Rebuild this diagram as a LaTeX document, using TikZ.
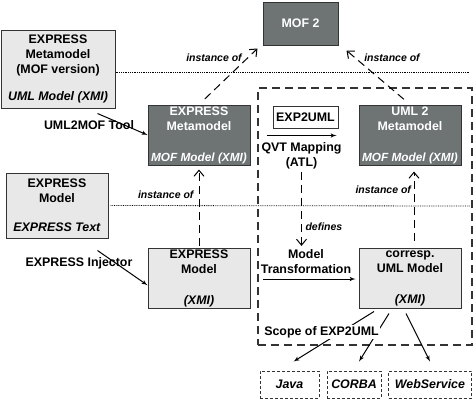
\documentclass[tikz,border=0pt]{standalone}
\usepackage{fontspec}
\setmainfont{Liberation Sans}
\usepackage{xcolor}
\usepackage{tikz}
\usetikzlibrary{shapes,arrows,arrows.meta}
\definecolor{boxdark}{HTML}{6E7474}
\definecolor{boxlight}{HTML}{E8E8E8}
\definecolor{boxline}{HTML}{333333}
\tikzstyle{lightbox} = [rectangle, draw=boxline, fill=boxlight, line width=1pt, align=center, inner sep=0pt, minimum width=102pt, minimum height=60pt]
\tikzstyle{darkbox} = [lightbox, fill=boxdark, text=white]
\tikzstyle{target} = [rectangle, draw=boxline, line width=0.9pt, dash pattern=on 3pt off 2pt, minimum width=54pt, minimum height=27pt, inner sep=0pt]
\tikzstyle{scopebox} = [rectangle, draw=boxline, line width=1.2pt, dash pattern=on 8pt off 5pt, minimum width=214pt, minimum height=257pt]
\tikzstyle{line} = [draw, -latex', line width=1pt]
\tikzstyle{inst} = [draw, -{Straight Barb[length=6pt,width=10pt]}, line width=1pt, dash pattern=on 8pt off 5pt]
\tikzstyle{sep} = [draw, densely dotted, line width=0.8pt]
\tikzstyle{lbl} = [font=\fontsize{10.5}{12}\selectfont\bfseries\itshape]
\newcommand{\xmitext}[1]{{\fontsize{11.8}{14}\selectfont\itshape #1}}

\begin{document}
\begin{tikzpicture}[x=1pt, y=-1pt, font=\fontsize{12.4}{15}\selectfont\bfseries]
\useasboundingbox (0,0) rectangle (474,400);

\node [scopebox] (scope) at (365,216.5) {};

\node [darkbox, minimum width=75pt, minimum height=43pt] (mof) at (300.5,23.5) {MOF 2};
\node [lightbox, minimum width=114pt, minimum height=78pt] (expmeta) at (58,69) {EXPRESS\\Metamodel\\(MOF version)\\[12pt]\textit{UML Model (XMI)}};
\node [darkbox] (exmof) at (199,135) {EXPRESS\\Metamodel\\[16pt]\xmitext{MOF Model (XMI)}};
\node [darkbox] (umlmof) at (410,135) {UML 2\\Metamodel\\[16pt]\xmitext{MOF Model (XMI)}};
\node [lightbox, minimum height=65pt] (exptext) at (57,205.5) {EXPRESS\\Model\\[14pt]\textit{EXPRESS Text}};
\node [lightbox] (expxmi) at (199,278) {EXPRESS\\Model\\[16pt]\textit{(XMI)}};
\node [lightbox] (umlxmi) at (410,278) {corresp.\\UML Model\\[16pt]\textit{(XMI)}};

\coordinate (sepend1) at (470,72);
\coordinate (sepend2) at (470,206);
\path [sep] ([yshift=-3pt]expmeta.east) -- (sepend1);
\path [sep] ([xshift=2pt]exptext.east) -- (sepend2);

\path [inst, shorten <=8pt] (exmof.north) -- ([xshift=-5pt,yshift=-3pt]mof.south west);
\path [inst, shorten <=8pt] (umlmof.north) -- ([xshift=8pt,yshift=-5pt]mof.south east);
\node [lbl] (inst1) at (214,58) {instance of};
\node [lbl] (inst2) at (392,58) {instance of};
\path [inst, shorten <=2pt, shorten >=4pt] (expxmi.north) -- (exmof.south);
\path [inst, shorten <=7pt, shorten >=6pt] ([xshift=4pt]umlxmi.north) -- ([xshift=4pt]umlmof.south);
\node [lbl, anchor=east] (inst3) at (197,195) {instance of};
\node [lbl, anchor=east] (inst4) at (414.5,190) {instance of};

\node (toollbl) at (89,125) {UML2MOF Tool};
\path [line] ([xshift=-18pt,yshift=-5pt]expmeta.south east) -- (exmof.west);
\node (injlbl) at (79,263) {EXPRESS Injector};
\path [line] ([xshift=-11pt,yshift=-12pt]exptext.south east) -- (expxmi.188);

\node [rectangle, draw=boxline, fill=white, line width=1pt, minimum width=65pt, minimum height=22pt, inner sep=0pt] (exp2uml) at (305.5,117) {EXP2UML};
\path [line] ([xshift=-6pt,yshift=-7pt]exp2uml.south west) -- ([xshift=-2pt,yshift=-7pt]exp2uml.south east);
\node [align=center] (qvt) at (301.5,155.5) {QVT Mapping\\(ATL)};
\node [align=center] (trans) at (306,261.5) {Model\\Transformation};
\path [inst] (qvt.south) -- (qvt.south |- trans.north);
\node [lbl, anchor=west] (deflbl) at (302,227) {defines};
\coordinate (transtail) at (263,279);
\path [line, shorten >=3pt] (transtail) -- ([yshift=-1pt]umlxmi.west);

\node [target, minimum width=59pt] (java) at (289.5,384.5) {\textit{Java}};
\node [target] (corba) at (354,384.5) {\textit{CORBA}};
\node [target, minimum width=83pt] (websvc) at (430,384.5) {\textit{WebService}};
\path [line] ([xshift=-36pt,yshift=-3pt]umlxmi.south) -- ([xshift=4pt,yshift=9pt]java.north);
\path [line] ([xshift=-21pt,yshift=-5pt]umlxmi.south) -- ([xshift=5pt,yshift=9pt]corba.north);
\path [line] ([xshift=-4pt,yshift=-5pt]umlxmi.south) -- ([yshift=9pt]websvc.north);
\node [fill=white, inner sep=1pt] (scopelbl) at (321.5,332) {Scope of EXP2UML};
\end{tikzpicture}
\end{document}
